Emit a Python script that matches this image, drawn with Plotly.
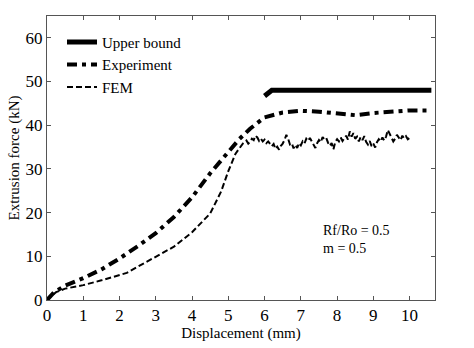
import numpy as np
import plotly.graph_objects as go

# Upper bound
ub_x = [6.0, 6.2, 10.6]
ub_y = [46.7, 48.0, 48.0]

# Experiment
exp_x = [0, 0.2, 0.5, 1.0, 1.5, 2.0, 2.5, 3.0, 3.5, 4.0, 4.5, 5.0, 5.3, 5.6, 6.0,
         6.5, 7.0, 7.5, 8.0, 8.5, 9.0, 9.5, 10.0, 10.5]
exp_y = [0, 1.8, 3.3, 5.0, 7.0, 9.5, 12.3, 15.3, 19.0, 23.5, 29.0, 34.0, 36.8, 39.2, 41.8,
         42.9, 43.3, 43.1, 42.6, 42.3, 42.8, 43.2, 43.4, 43.4]

# FEM - rising part
fem_x1 = [0, 0.25, 0.5, 1.0, 1.5, 2.0, 2.2, 2.5, 3.0, 3.5, 4.0, 4.5, 4.8, 5.0, 5.2, 5.4]
fem_y1 = [0, 1.8, 2.6, 3.4, 4.5, 5.6, 6.2, 7.6, 10.0, 12.2, 15.5, 19.8, 24.8, 29.5, 33.5, 35.8]
# FEM - noisy plateau, x from 5.5 to 10.0 in 0.05 steps
fem_y2 = [36.5, 35.8, 36.2, 36.9, 36.6, 37.6, 37.2, 36.4, 36.9, 36.3,
          36.7, 35.9, 36.3, 35.6, 35.2, 35.7, 34.6, 35.1, 34.4, 35.3,
          35.8, 36.6, 37.8, 36.9, 35.6, 35.9, 34.7, 35.5, 34.8, 35.9,
          35.4, 36.3, 35.8, 36.9, 36.4, 37.1, 36.2, 35.4, 34.8, 35.9,
          36.6, 36.1, 37.3, 36.8, 37.1, 36.0, 35.3, 35.9, 34.5, 36.2,
          36.8, 36.3, 37.2, 36.4, 37.0, 37.6, 36.7, 38.6, 37.4, 38.2,
          36.9, 37.4, 36.3, 37.3, 36.6, 37.5, 36.2, 35.6, 36.4, 35.2,
          35.8, 34.9, 36.1, 36.8, 36.3, 37.2, 36.5, 37.4, 38.9, 38.1,
          37.0, 36.3, 36.9, 37.8, 37.2, 36.6, 37.6, 37.0, 37.5, 36.8,
          37.1]
fem_x2 = list(np.round(np.linspace(5.5, 10.0, len(fem_y2)), 3))
fem_x = fem_x1 + fem_x2
fem_y = fem_y1 + fem_y2

x_ticks = list(range(0, 11))
y_ticks = list(range(0, 61, 10))

FONT = "Liberation Serif"

fig = go.Figure()
fig.add_trace(go.Scatter(x=ub_x, y=ub_y, mode="lines", name="Upper bound",
                         line=dict(color="black", width=5)))
fig.add_trace(go.Scatter(x=exp_x, y=exp_y, mode="lines", name="Experiment",
                         line=dict(color="black", width=4, dash="10px,5px,4px,5px")))
fig.add_trace(go.Scatter(x=fem_x, y=fem_y, mode="lines", name="FEM",
                         line=dict(color="black", width=2, dash="6px,3px")))

fig.add_annotation(x=7.55, y=13.9, xref="x", yref="y", xanchor="left", yanchor="middle",
                   align="left", showarrow=False,
                   text="Rf/Ro = 0.5<br>m = 0.5", font=dict(family=FONT, size=14, color="black"))

axis_common = dict(showgrid=False, zeroline=False, showline=True, mirror="allticks",
                   linecolor="#555", linewidth=1, ticks="inside", ticklen=4,
                   tickcolor="#555", tickfont=dict(family=FONT, size=17, color="black"))

fig.update_xaxes(range=[0, 10.7], tickvals=x_ticks,
                 title=dict(text="Displacement (mm)", font=dict(family=FONT, size=15, color="black"), standoff=0),
                 **axis_common)
fig.update_yaxes(range=[0, 65], tickvals=y_ticks,
                 title=dict(text="Extrusion force (kN)", font=dict(family=FONT, size=15, color="black"), standoff=2),
                 **axis_common)

fig.update_layout(
    width=474, height=348,
    margin=dict(l=47, r=39, t=16, b=43),
    paper_bgcolor="white", plot_bgcolor="white",
    showlegend=True,
    font=dict(family=FONT, size=15, color="black"),
    legend=dict(x=(62 - 47) / 388, y=(305 - 26) / 289, xanchor="left", yanchor="top",
                bgcolor="rgba(0,0,0,0)", borderwidth=0, tracegroupgap=0,
                font=dict(family=FONT, size=15, color="black")),
)

fig.write_html("out.html")
